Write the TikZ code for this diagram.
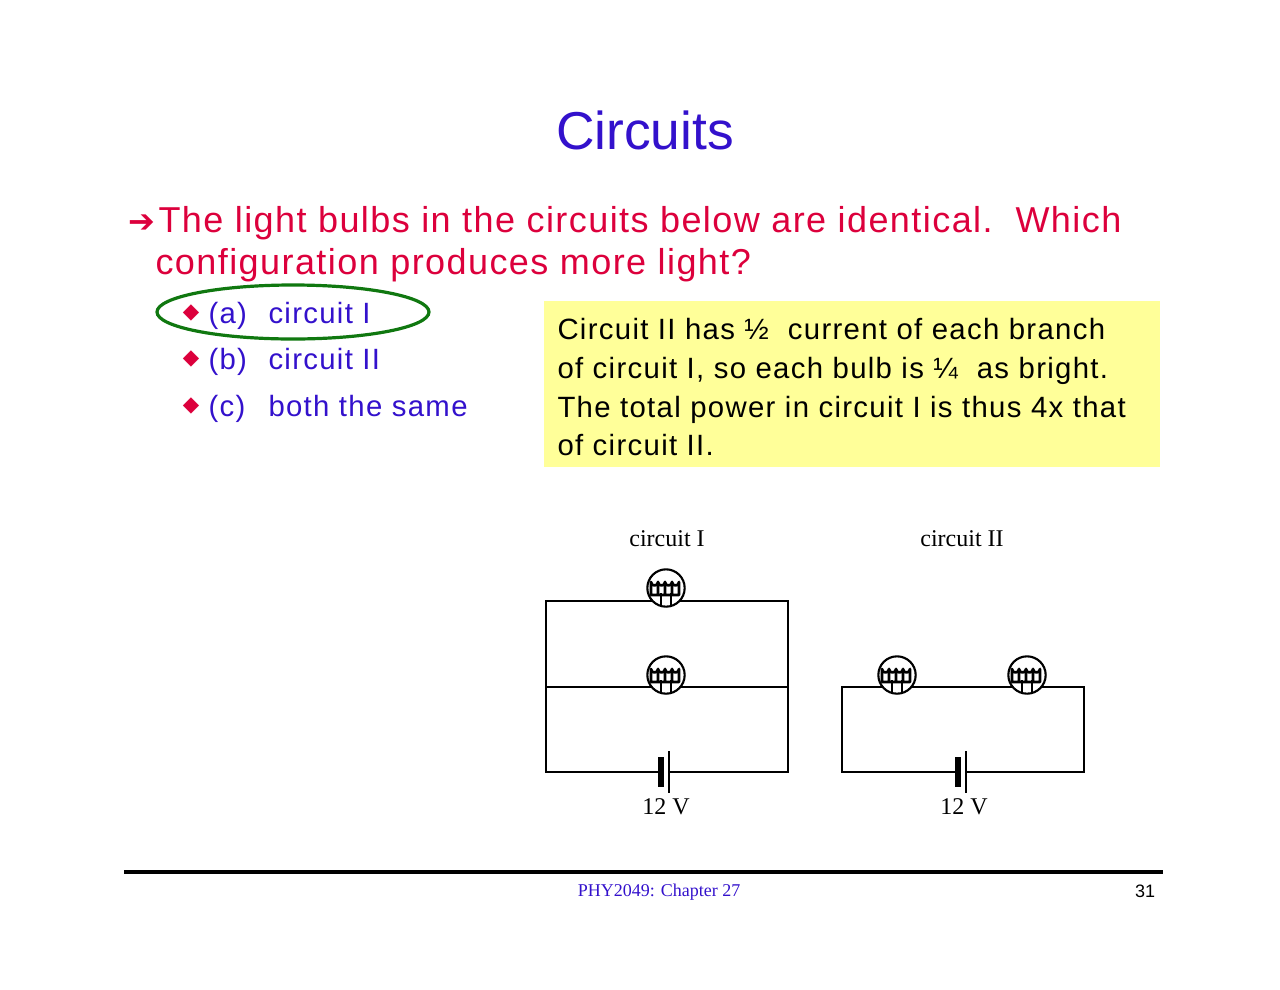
\documentclass[tikz,border=0pt]{standalone}
\usepackage{fontspec}
\setmainfont{Liberation Sans}
\newfontfamily\widef[LetterSpace=4]{Liberation Sans}
\newfontfamily\widerf[LetterSpace=4.5]{Liberation Sans}
\newfontfamily\timesf{Liberation Serif}
\newfontfamily\symf{DejaVu Sans}
\definecolor{titleblue}{RGB}{51,17,204}
\definecolor{slidered}{RGB}{220,0,60}
\definecolor{ovalgreen}{RGB}{16,120,16}
\definecolor{noteyellow}{RGB}{255,255,153}
\tikzset{every picture/.style={line width=0.75pt}}
\tikzset{
  wire/.style={line width=2.2},
  bulb/.style={circle,draw,fill=white,line width=1.6,minimum size=28pt,inner sep=0pt},
  coil/.style={line width=2,line join=round},
  optline/.style={anchor=base west,inner sep=0pt,text=titleblue,font=\widerf\fontsize{22}{26}\selectfont},
  noteline/.style={anchor=base west,inner sep=0pt,font=\widerf\fontsize{22}{26}\selectfont},
  cirlabel/.style={inner sep=0pt,font=\timesf\fontsize{18}{20}\selectfont}
}
\newcommand{\filament}[1]{%
  \draw[coil] ([shift={(-5,17)}]#1.center) -- ++(0,-12) ([shift={(5,17)}]#1.center) -- ++(0,-12);
  \draw[coil] ([shift={(-15,7)}]#1.center) -- ++(0,-13) arc (180:0:3.5) -- ++(0,13) -- ++(0,-13) arc (180:0:3.5) -- ++(0,13) -- ++(0,-13) arc (180:0:3.5) -- ++(0,13) -- ++(0,-13) arc (180:0:3.5) -- ++(0,13) -- cycle;
}
\begin{document}
\begin{tikzpicture}[x=0.75pt,y=0.75pt,yscale=-1,xscale=1]
\useasboundingbox (0,0) rectangle (1280,989);

% Title and question
\node (title) at (645,130) {\color{titleblue}\fontsize{40}{44}\selectfont Circuits};
\node[anchor=base west,inner sep=0pt] (arrow) at (128,232) {\color{slidered}\symf\fontsize{24}{28}\selectfont ➔};
\node[anchor=base west,inner sep=0pt] (qone) at (158,232) {\color{slidered}\widef\fontsize{27}{30}\selectfont The light bulbs in the circuits below are identical.\ \ Which};
\node[anchor=base west,inner sep=0pt] (qtwo) at (155,274) {\color{slidered}\widef\fontsize{27}{30}\selectfont configuration produces more light?};

% Options
\foreach \y/\lab/\txt [count=\i] in {323/(a)/circuit I,369/(b)/circuit II,416/(c)/both the same}{
  \node[text=slidered,inner sep=0pt,font=\symf\fontsize{16}{18}\selectfont] (dia\i) at (191,\y-10) {◆};
  \node[optline] (opt\i) at (208,\y) {\lab};
  \node[optline] (optt\i) at (268,\y) {\txt};
}
\draw[ovalgreen,line width=2.4] (293,312) ellipse (136 and 27);

% Answer box
\fill[noteyellow] (544,301) rectangle (1160,467);
\node[noteline] (nA) at (557,339) {Circuit II has ½\ \ current of each branch};
\node[noteline] (nB) at (557,378) {of circuit I, so each bulb is ¼\ \ as bright.};
\node[noteline] (nC) at (557,417) {The total power in circuit I is thus 4x that};
\node[noteline] (nD) at (557,455) {of circuit II.};

% Circuit I
\node[cirlabel] (labI) at (667,539) {circuit I};
\coordinate (tl) at (546,601); \coordinate (tr) at (788,601);
\coordinate (ml) at (546,687); \coordinate (mr) at (788,687);
\coordinate (bl) at (546,772); \coordinate (br) at (788,772);
\coordinate (batIa) at (661,772); \coordinate (batIb) at (669,772);
\draw[wire] (batIa) -- (bl) -- (tl) -- (tr) -- (br) -- (batIb);
\draw[wire] (ml) -- (mr);
\draw[line width=4] ([yshift=-11pt]batIa) -- ([yshift=11pt]batIa);
\draw[wire] ([yshift=-15.5pt]batIb) -- ([yshift=15.5pt]batIb);
\node[bulb] (bulbA) at (666,588) {}; \filament{bulbA}
\node[bulb] (bulbB) at (666,675) {}; \filament{bulbB}
\node[cirlabel] (voltI) at (666,807) {12 V};

% Circuit II
\node[cirlabel] (labII) at (962,539) {circuit II};
\coordinate (sl) at (842,687); \coordinate (sr) at (1084,687);
\coordinate (ul) at (842,772); \coordinate (ur) at (1084,772);
\coordinate (batIIa) at (958,772); \coordinate (batIIb) at (966,772);
\draw[wire] (batIIa) -- (ul) -- (sl) -- (sr) -- (ur) -- (batIIb);
\draw[line width=4] ([yshift=-11pt]batIIa) -- ([yshift=11pt]batIIa);
\draw[wire] ([yshift=-15.5pt]batIIb) -- ([yshift=15.5pt]batIIb);
\node[bulb] (bulbC) at (897,675) {}; \filament{bulbC}
\node[bulb] (bulbD) at (1027,675) {}; \filament{bulbD}
\node[cirlabel] (voltII) at (964,807) {12 V};

% Footer
\draw[line width=3] (124,872) -- (1163,872);
\node[inner sep=0pt,text=titleblue,font=\timesf\fontsize{13.5}{15}\selectfont] (foot) at (659,892) {PHY2049: Chapter 27};
\node[inner sep=0pt,font=\fontsize{13.5}{15}\selectfont] (page) at (1145,891) {31};
\end{tikzpicture}
\end{document}
